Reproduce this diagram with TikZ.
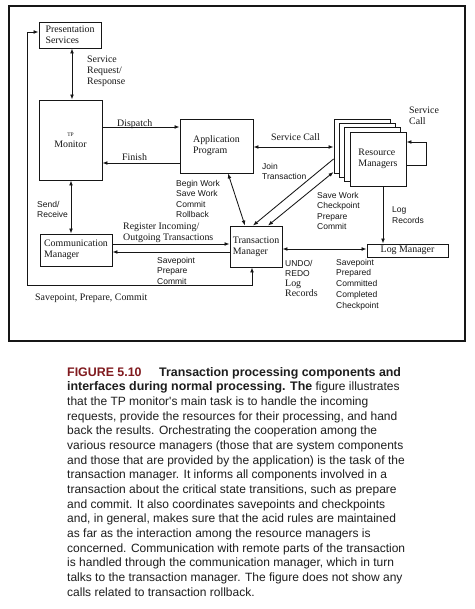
\documentclass[tikz,border=0pt]{standalone}
\usepackage{fontspec}
\setmainfont{Liberation Serif}
\newfontfamily\capfont{Liberation Sans}
\usetikzlibrary{arrows.meta}
\definecolor{figred}{RGB}{128,26,30}
\definecolor{ink}{RGB}{22,22,22}
\definecolor{captext}{RGB}{30,30,30}
\newcommand{\capbold}{\bfseries\fontsize{12.4}{14.67}\selectfont}
\begin{document}
\begin{tikzpicture}[x=1pt,y=-1pt,
  every node/.style={inner sep=0pt, text=ink},
  box/.style={draw=ink, line width=0.9pt, fill=white, align=left, font=\fontsize{9.9}{11}\selectfont},
  serl/.style={anchor=north west, align=left, font=\fontsize{9.9}{11}\selectfont},
  sanl/.style={anchor=north west, align=left, font=\capfont\fontsize{8.5}{10.5}\selectfont},
  capline/.style={anchor=base west, text=captext, font=\capfont\fontsize{12}{14.67}\selectfont},
  conn/.style={draw=ink, line width=0.85pt},
  onearr/.style={conn, -{Latex[length=5pt,width=3.8pt]}},
  twoarr/.style={conn, {Latex[length=5pt,width=3.8pt]}-{Latex[length=5pt,width=3.8pt]}}
]
\useasboundingbox (0,0) rectangle (474,609);
\fill[white] (0,0) rectangle (474,609);
% outer frame
\draw[ink, line width=1.4pt] (9,6) rectangle (465,341);

% boxes
\node[box, minimum width=62, minimum height=26] (ps) at (70,35) {Presentation\\Services};
\node[box, minimum width=63, minimum height=80, align=center] (tp) at (70.5,140) {{\fontsize{5.5}{6}\selectfont TP}\\Monitor};
\node[box, minimum width=73, minimum height=54] (app) at (216.5,146) {Application\\Program};
\node[box, minimum width=52, minimum height=41] (tm) at (256,246.5) {Transaction\\Manager};
\node[box, minimum width=72, minimum height=32] (cm) at (76,250) {Communication\\Manager};
\node[box, minimum width=81, minimum height=13] (lm) at (407.5,250.5) {Log Manager};
\node[box, minimum width=56, minimum height=54] (rm4) at (362,146) {};
\node[box, minimum width=56, minimum height=54] (rm3) at (367.3,150.3) {};
\node[box, minimum width=56, minimum height=54] (rm2) at (372.6,154.6) {};
\node[box, minimum width=56, minimum height=54] (rm1) at (378,159) {Resource\\Managers};

% connectors
\draw[twoarr] (tm.south -| 252,0) -- (252,285) -- (27,285) -- (27,32) -- (ps.west |- 0,32);
\draw[twoarr] (ps.south -| 72,0) -- (tp.north -| 72,0);
\draw[onearr] (tp.east |- 0,127) -- (app.west |- 0,127);
\draw[onearr] (app.west |- 0,163) -- (tp.east |- 0,163);
\draw[twoarr] (app.south -| 228,0) -- (tm.north -| 245,0);
\draw[twoarr] (app.east |- 0,147) -- (rm4.west |- 0,147);
\draw[onearr] (rm4.west |- 0,159) -- (tm.north -| 253,0);
\draw[twoarr] (rm4.west |- 0,172) -- (tm.north -| 268,0);
\draw[onearr] (rm1.south -| 383,0) -- (lm.north -| 383,0);
\draw[twoarr] (tm.east |- 0,249) -- (lm.west |- 0,249);
\draw[onearr] (cm.east |- 0,244) -- (tm.west |- 0,244);
\draw[onearr] (tm.west |- 0,252) -- (cm.east |- 0,252);
\draw[twoarr] (tp.south -| 71,0) -- (cm.north -| 71,0);
\draw[onearr] (rm1.east |- 0,165) -- (426,165) -- (426,142) -- (rm1.east |- 0,142);

% labels
\node[serl] (lsr) at (87,55.5) {Service\\Request/\\Response};
\node[serl] (ldis) at (117,119.5) {Dispatch};
\node[serl] (lfin) at (122,153.5) {Finish};
\node[sanl] (lbw) at (176,179.8) {Begin Work\\Save Work\\Commit\\Rollback};
\node[serl] (lsc) at (271,133.5) {Service Call};
\node[serl] (lsc2) at (409,106.5) {Service\\Call};
\node[sanl] (ljt) at (262,162.8) {Join\\Transaction};
\node[sanl] (lsw) at (317,191.8) {Save Work\\Checkpoint\\Prepare\\Commit};
\node[sanl] (llr) at (392,206.8) {Log\\Records};
\node[sanl] (lsnd) at (37,200.8) {Send/\\Receive};
\node[serl] (lreg) at (123,222.5) {Register Incoming/\\Outgoing Transactions};
\node[sanl] (lspc) at (157,256.8) {Savepoint\\Prepare\\Commit};
\node[sanl, font=\capfont\fontsize{8.5}{10}\selectfont] (lundo) at (285,259.8) {UNDO/\\REDO\\{\rmfamily\fontsize{9.9}{10}\selectfont Log}\\{\rmfamily\fontsize{9.9}{10}\selectfont Records}};
\node[sanl, font=\capfont\fontsize{8.5}{10.75}\selectfont] (lsvp) at (336,258.8) {Savepoint\\Prepared\\Committed\\Completed\\Checkpoint};
\node[serl] (lbot) at (35,293.5) {Savepoint, Prepare, Commit};

% caption
\node[capline] (cap1) at (67,376) {\textcolor{figred}{\capbold FIGURE 5.10}};
\node[capline] (cap1b) at (159,376) {\capbold Transaction processing components and};
\node[capline] (cap2) at (67,390.67) {{\capbold interfaces during normal processing. The} figure illustrates};
\node[capline] (cap3) at (67,405.33) {that the TP monitor's main task is to handle the incoming};
\node[capline] (cap4) at (67,420) {requests, provide the resources for their processing, and hand};
\node[capline] (cap5) at (67,434.67) {back the results. Orchestrating the cooperation among the};
\node[capline] (cap6) at (67,449.33) {various resource managers (those that are system components};
\node[capline] (cap7) at (67,464) {and those that are provided by the application) is the task of the};
\node[capline] (cap8) at (67,478.67) {transaction manager. It informs all components involved in a};
\node[capline] (cap9) at (67,493.33) {transaction about the critical state transitions, such as prepare};
\node[capline] (cap10) at (67,508) {and commit. It also coordinates savepoints and checkpoints};
\node[capline] (cap11) at (67,522.67) {and, in general, makes sure that the acid rules are maintained};
\node[capline] (cap12) at (67,537.33) {as far as the interaction among the resource managers is};
\node[capline] (cap13) at (67,552) {concerned. Communication with remote parts of the transaction};
\node[capline] (cap14) at (67,566.67) {is handled through the communication manager, which in turn};
\node[capline] (cap15) at (67,581.33) {talks to the transaction manager. The figure does not show any};
\node[capline] (cap16) at (67,596) {calls related to transaction rollback.};
\end{tikzpicture}
\end{document}
